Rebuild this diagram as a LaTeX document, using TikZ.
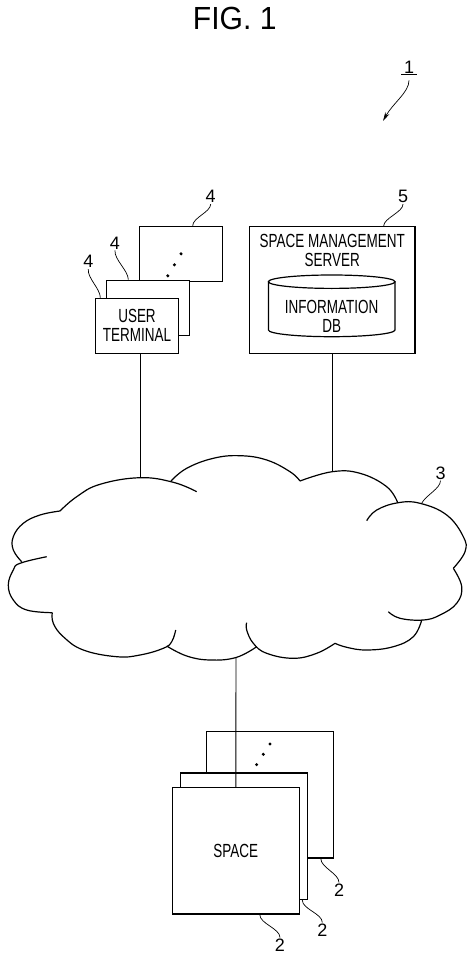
\documentclass[tikz,border=0pt]{standalone}
\usepackage{fontspec}
\setmainfont{Liberation Sans}
\newfontfamily\narrowfont[FakeStretch=0.71]{Liberation Sans}
\newfontfamily\titlefont[FakeStretch=0.94]{Liberation Sans}
\usetikzlibrary{positioning,arrows.meta,calc}
\tikzstyle{termbox}=[rectangle, draw, fill=white, line width=1.2pt, minimum width=83pt, minimum height=55pt,
inner sep=0pt, align=center, font=\narrowfont\fontsize{19}{19}\selectfont]
\tikzstyle{spacebox}=[termbox, minimum width=127pt, minimum height=126.5pt]
\tikzstyle{srvbox}=[termbox, minimum width=165.7pt, minimum height=126.6pt]
\tikzstyle{txt}=[inner sep=0pt, align=center, font=\narrowfont\fontsize{19}{19}\selectfont]
\tikzstyle{numlab}=[inner sep=1pt, font=\fontsize{18}{18}\selectfont]
\tikzstyle{line}=[-, line width=0.9pt]
\tikzstyle{lead}=[-, line width=0.7pt]
\tikzstyle{netline}=[line width=1.2pt]

\begin{document}
\begin{tikzpicture}[x=1pt, y=-1pt]
\useasboundingbox (0,0) rectangle (474,960);

    \node (title) at (234.7,18.7) {\titlefont\fontsize{32}{32}\selectfont FIG. 1};
    \node (l1) [numlab] at (409,67) {1};

    % user terminals
    \node (term3) [termbox] at (181,253.8) {};
    \node (term2) [termbox] at (148,307.7) {};
    \node (term) [termbox] at (137,325.8) {USER\\TERMINAL};
    \foreach \i in {0,1,2}
        \fill ($(term3.center)+(-6.6*\i,11*\i)$) circle (1.7);

    % server
    \node (srv) [srvbox] at (332.2,290) {};
    \node (srvtxt) [txt, below=8.3pt of srv.north] {SPACE MANAGEMENT\\SERVER};
    \draw[netline] (331.7,281.7) ellipse [x radius=63.3, y radius=6.7];
    \draw[netline] (268.4,281.7) -- (268.4,330) arc[start angle=180, end angle=0, x radius=63.3, y radius=6.7] -- (395,281.7);
    \node (db) [txt] at (331.7,316) {INFORMATION\\DB};

    % spaces
    \node (space3) [spacebox] at (270,794.7) {};
    \node (space2) [spacebox] at (244.2,836.3) {};
    \node (space) [spacebox] at (235.8,850.8) {SPACE};
    \foreach \i in {0,1,2}
        \fill ($(space3.center)+(-6.7*\i,-50.7+10.3*\i)$) circle (1.7);

    % network cloud
    \draw[netline] plot[smooth, tension=0.7] coordinates {(60,511) (76.7,496.7) (100,484.3) (140,477.7) (173.3,482.3) (196.7,491.7)};
    \draw[netline] plot[smooth, tension=0.7] coordinates {(171,481) (186.7,468.3) (213.3,458.3) (240,455.7) (266.7,460) (290,471.7) (300,481)};
    \draw[netline] plot[smooth, tension=0.7] coordinates {(300,481) (332.2,471.7) (360,473.3) (386.7,486.7) (397.7,502.7)};
    \draw[netline] plot[smooth, tension=0.7] coordinates {(366.7,520.7) (376.7,510) (398.3,502.7) (420,503.3) (446.7,515) (463.3,536.7) (465,551.7) (453.3,568.3)};
    \draw[netline] plot[smooth, tension=0.7] coordinates {(453.3,568.3) (461.7,586.7) (456.7,603.3) (440,615) (423.3,620) (400,618.3) (388.3,611.7)};
    \draw[netline] plot[smooth, tension=0.7] coordinates {(421.7,620) (413.3,636.7) (393.3,646.7) (366.7,650) (346.7,647.3) (335,643.3)};
    \draw[netline] plot[smooth, tension=0.7] coordinates {(335,643.3) (316.7,653.3) (293.3,658.3) (266.7,653.3) (253.3,643.3) (246.7,630) (246.7,622.7)};
    \draw[netline] plot[smooth, tension=0.7] coordinates {(256.7,646.7) (236,657.5) (210,660) (186.7,656) (166.7,646)};
    \draw[netline] plot[smooth, tension=0.7] coordinates {(175.7,630) (171.7,641.7) (163.3,648.3) (140,655) (116.7,656.7) (83.3,650) (63.3,636.7) (53.3,623.3) (52.3,612.7)};
    \draw[netline] plot[smooth, tension=0.7] coordinates {(52.3,612.7) (26.7,610) (13.3,600) (8.3,585) (13.3,570) (20,563.3) (46.7,556.7)};
    \draw[netline] plot[smooth, tension=0.7] coordinates {(21.7,561.7) (13.3,550) (13.3,536.7) (23.3,523.3) (40,515) (60,511)};
    \coordinate (netl) at (140,477.7);
    \coordinate (nets) at (332.2,471.7);
    \coordinate (netb) at (236,657.5);
    \coordinate (netr) at (421.7,503.3);
    \coordinate (sys) at (383,121);

    % labels
    \node (l4c) [numlab] at (210.7,196.7) {4};
    \node (l4b) [numlab] at (115,243) {4};
    \node (l4a) [numlab] at (88.3,261.7) {4};
    \node (l5) [numlab] at (403,196.7) {5};
    \node (l3) [numlab] at (440.5,473) {3};
    \node (l2c) [numlab] at (339,890) {2};
    \node (l2b) [numlab] at (322.3,930) {2};
    \node (l2a) [numlab] at (280,945) {2};

%Lines ..
\draw[line] (netl |- term.south) -- (netl);
\draw[line] (srv.south) -- (nets);
\draw[line] (netb) -- (space.north);

%leaders
\draw[lead] (l4c.south) .. controls +(0,8) and +(0,-8) .. ([xshift=11.7pt]term3.north);
\draw[lead] (l4b.south) .. controls +(-1,9) and +(0,-9) .. ([xshift=-19.7pt]term2.north);
\draw[lead] (l4a.south) .. controls +(-1,9) and +(0,-9) .. ([xshift=5.4pt]term.north west);
\draw[lead] (l5.south) .. controls +(0,8) and +(0,-8) .. ([xshift=-32pt]srv.north east);
\draw[lead] (l3.south) .. controls +(0,8) and +(4,-8) .. (netr);
\draw[lead] ([xshift=-13.3pt]space3.south east) .. controls +(0,9) and +(0,-9) .. (l2c.north);
\draw[lead] ([xshift=-6pt]space2.south east) .. controls +(0,9) and +(0,-9) .. (l2b.north);
\draw[lead] ([xshift=24pt]space.south) .. controls +(0,9) and +(0,-9) .. (l2a.north);

\draw[line width=1pt] ([xshift=-1.5pt]l1.south west) -- ([xshift=1.5pt]l1.south east);
\draw[lead, -{Stealth[length=9pt, width=4.5pt]}] ([yshift=-6pt]l1.south) .. controls +(0,12) and +(10,-18) .. (sys);

\end{tikzpicture}
\end{document}
